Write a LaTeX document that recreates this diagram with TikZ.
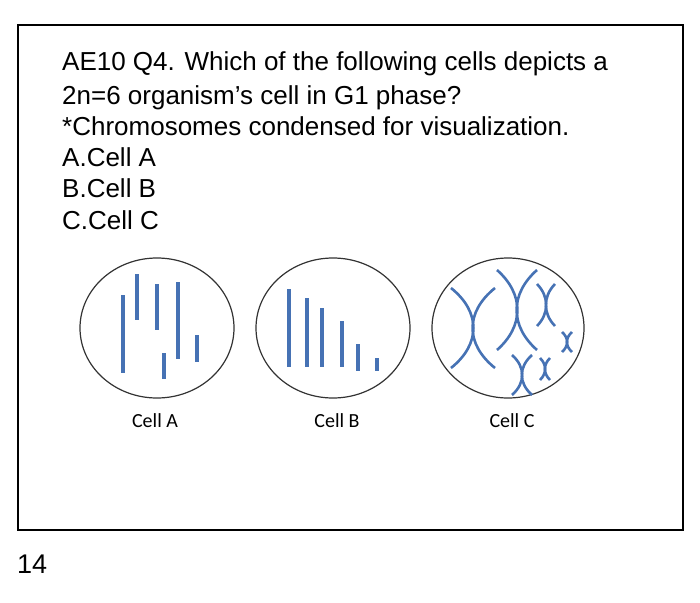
\documentclass[tikz,border=0pt]{standalone}
\usepackage{fontspec}
\setmainfont{Liberation Sans}
\newfontfamily\calib{Carlito}
\definecolor{chromblue}{RGB}{70,114,180}
\begin{document}
\begin{tikzpicture}[x=1pt,y=-1pt,
  q/.style={anchor=base west,inner sep=0pt,font=\fontsize{26}{28}\selectfont},
  cell/.style={draw=black!80,line width=1.2pt},
  bar/.style={line width=3.2pt,chromblue},
  chrom/.style={line width=2.6pt,chromblue},
  lab/.style={font=\fontsize{20}{22}\selectfont\calib,inner sep=0pt},
  xchr/.pic={\draw[chrom] (-1,-1) .. controls (0.36,-0.4) and (0.36,0.4) .. (-1,1); \draw[chrom] (1,-1) .. controls (-0.36,-0.4) and (-0.36,0.4) .. (1,1);}]
\useasboundingbox (0,0) rectangle (700,602);
\draw[line width=2pt] (18,25) rectangle (683,530);
\node[q] (l1) at (62,70) {AE10 Q4. Which of the following cells depicts a};
\node[q] (l2) at (62,104) {2n=6 organism’s cell in G1 phase?};
\node[q] (l3) at (62,135) {*Chromosomes condensed for visualization.};
\node[q] (l4) at (62,166) {A.Cell A};
\node[q] (l5) at (62,197) {B.Cell B};
\node[q] (l6) at (62,229) {C.Cell C};
\draw[cell] (157,328) ellipse (77 and 70);
\draw[cell] (333,328) ellipse (77 and 70);
\draw[cell] (508,328) ellipse (76 and 70);
% Cell A
\foreach \x/\a/\b in {123/295/373, 137/274/320, 157/284/330, 164/353/379, 178/282/359, 197/335/362}
  \draw[bar] (\x,\a) -- (\x,\b);
% Cell B
\foreach \x/\a/\b in {289/289/367, 307/298/367, 322/308/367, 342/321/367, 358/344/371, 377/358/371}
  \draw[bar] (\x,\a) -- (\x,\b);
% Cell C
\pic[xscale=22,yscale=40] (c1) at (473,328) {xchr};
\pic[xscale=20,yscale=40] (c2) at (517,310) {xchr};
\pic[xscale=9,yscale=21] (c3) at (546,305) {xchr};
\pic[xscale=5,yscale=10] (c4) at (567,342) {xchr};
\pic[xscale=10,yscale=20] (c5) at (522,375) {xchr};
\pic[xscale=5,yscale=11] (c6) at (545,369) {xchr};
\node[lab] (la) at (155,421) {Cell A};
\node[lab] (lb) at (337,421) {Cell B};
\node[lab] (lc) at (512,421) {Cell C};
\node[anchor=base west,inner sep=0pt,font=\fontsize{27}{30}\selectfont] (n) at (17,573) {14};
\end{tikzpicture}
\end{document}
